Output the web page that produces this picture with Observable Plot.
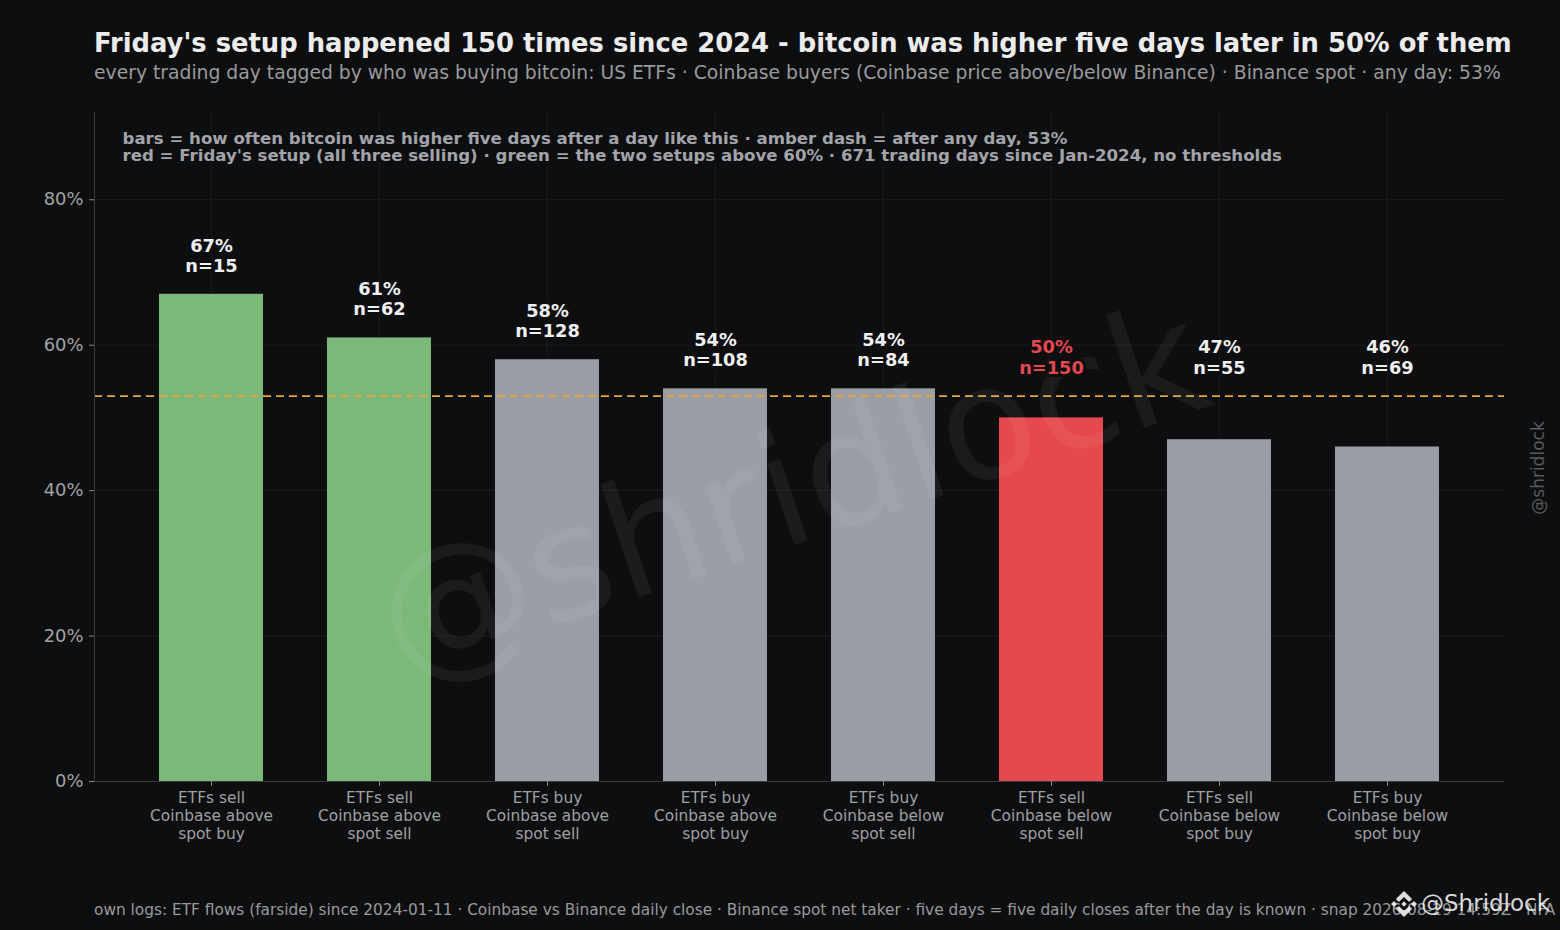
<!DOCTYPE html>
<html>
<head>
<meta charset="utf-8">
<script src="https://cdn.jsdelivr.net/npm/d3@7"></script>
<script src="https://cdn.jsdelivr.net/npm/@observablehq/plot@0.6"></script>
<style>
  html, body { margin: 0; padding: 0; background: #0d0e10; }
  #wrap { position: relative; width: 1560px; height: 930px; overflow: hidden; background: #0d0e10; font-family: "DejaVu Sans", sans-serif; }
  #chart { position: absolute; left: 0; top: 0; }
  .t { position: absolute; white-space: nowrap; line-height: 1; }
  #title { left: 94px; top: 31px; font-size: 25.8px; font-weight: bold; color: #ececec; }
  #subtitle { left: 94px; top: 64px; font-size: 18.75px; color: #9a9a9a; }
  #footer { left: 94px; top: 903px; font-size: 15.35px; color: #9a9a9a; }
  #brand { left: 1421px; top: 892px; font-size: 23px; color: rgba(245,245,245,0.88); }
  #logo { position: absolute; left: 1391px; top: 891px; width: 26px; height: 26px; }
</style>
</head>
<body>
<div id="wrap">
  <div id="chart"></div>
  <div class="t" id="title"></div>
  <div class="t" id="subtitle"></div>
  <div class="t" id="footer"></div>
  <svg id="logo" viewBox="0 0 126 126"><g fill="rgba(245,245,245,0.9)">
    <polygon points="63,50 76,63 63,76 50,63"/>
    <polygon points="38.2,53.3 63,28.5 87.8,53.3 102.2,38.9 63,0 23.8,38.9"/>
    <polygon points="38.2,72.7 63,97.5 87.8,72.7 102.2,87.1 63,126 23.8,87.1"/>
    <polygon points="0,63 14.4,48.6 28.8,63 14.4,77.4"/>
    <polygon points="97.2,63 111.6,48.6 126,63 111.6,77.4"/>
  </g></svg>
  <div class="t" id="brand">@Shridlock</div>
</div>
<script>
// ---- data ----
const etfSide      = ["sell", "sell", "buy", "buy", "buy", "sell", "sell", "buy"];
const coinbaseSide = ["above", "above", "above", "above", "below", "below", "below", "below"];
const spotSide     = ["buy", "sell", "sell", "buy", "sell", "sell", "buy", "buy"];
const hitRate      = [67, 61, 58, 54, 54, 50, 47, 46];
const sampleSize   = [15, 62, 128, 108, 84, 150, 55, 69];
const setupGroup   = ["top", "top", "other", "other", "other", "friday", "other", "other"];
const anyDayRate   = 53;
const yTicks       = [0, 20, 40, 60, 80];

const titleText = "Friday's setup happened 150 times since 2024 - bitcoin was higher five days later in 50% of them";
const subtitleText = "every trading day tagged by who was buying bitcoin: US ETFs · Coinbase buyers (Coinbase price above/below Binance) · Binance spot · any day: 53%";
const noteLines = [
  "bars = how often bitcoin was higher five days after a day like this · amber dash = after any day, 53%",
  "red = Friday's setup (all three selling) · green = the two setups above 60% · 671 trading days since Jan-2024, no thresholds"
];
const footerText = "own logs: ETF flows (farside) since 2024-01-11 · Coinbase vs Binance daily close · Binance spot net taker · five days = five daily closes after the day is known · snap 2026-08-29 14:59Z · NFA";

// ---- styles ----
const bg = "#0d0e10";
const barPalette = {top: "#7cb87a", other: "#9c9ea6", friday: "#e5484d"};
const labelPalette = {top: "#f0f0f0", other: "#f0f0f0", friday: "#e5484d"};

document.getElementById("title").textContent = titleText;
document.getElementById("subtitle").textContent = subtitleText;
document.getElementById("footer").textContent = footerText;

const rows = hitRate.map((v, i) => ({
  setup: `ETFs ${etfSide[i]}\nCoinbase ${coinbaseSide[i]}\nspot ${spotSide[i]}`,
  rate: v,
  n: sampleSize[i],
  group: setupGroup[i],
  labelY: Math.max(v, anyDayRate)
}));

const chart = Plot.plot({
  width: 1560,
  height: 930,
  marginTop: 112,
  marginBottom: 149,
  marginLeft: 94,
  marginRight: 56,
  style: {background: bg, color: "#a3a3a3", fontFamily: "DejaVu Sans, sans-serif"},
  x: {domain: rows.map(d => d.setup), paddingInner: 0.38, paddingOuter: 0.38, align: 0.5, label: null},
  y: {domain: [0, 92], label: null},
  color: {type: "identity"},
  marks: [
    Plot.gridY(yTicks, {stroke: "#ffffff", strokeOpacity: 0.06}),
    Plot.gridX({stroke: "#ffffff", strokeOpacity: 0.05}),
    Plot.barY(rows, {x: "setup", y: "rate", fill: d => barPalette[d.group]}),
    Plot.ruleY([anyDayRate], {stroke: "#e3a53c", strokeWidth: 1.8, strokeDasharray: "8,5"}),
    Plot.ruleY([0], {stroke: "#3a3b3f"}),
    Plot.frame({anchor: "left", stroke: "#3a3b3f"}),
    Plot.axisY({ticks: yTicks, tickFormat: d => d + "%", tickSize: 5, tickPadding: 6, fontSize: 17.9, stroke: "#8a8a8a", fill: "#a3a3a3", label: null}),
    Plot.axisX({tickSize: 5, tickPadding: 4, fontSize: 15.4, lineHeight: 1.17, stroke: "#8a8a8a", fill: "#a0a0a0", label: null}),
    Plot.text(["@shridlock"], {frameAnchor: "middle", textAnchor: "middle", dx: -8, dy: 46, rotate: -18.5, fontSize: 157, fill: "#ffffff", fillOpacity: 0.055}),
    Plot.text(rows, {x: "setup", y: "labelY", text: d => `${d.rate}%\nn=${d.n}`, dy: -39, lineAnchor: "middle", lineHeight: 1.13, fontSize: 17.8, fontWeight: "bold", fill: d => labelPalette[d.group], stroke: bg, strokeWidth: 6}),
    Plot.text([noteLines.join("\n")], {frameAnchor: "top-left", dx: 28, dy: 19, lineAnchor: "top", textAnchor: "start", lineHeight: 1.03, fontSize: 16.6, fontWeight: "bold", fill: "#a3a3aa", stroke: bg, strokeWidth: 8}),
    Plot.text(["@shridlock"], {frameAnchor: "right", textAnchor: "middle", dx: 34, dy: 21, rotate: -90, fontSize: 17, fill: "#5a5a5e"})
  ]
});
document.getElementById("chart").appendChild(chart);
</script>
</body>
</html>
